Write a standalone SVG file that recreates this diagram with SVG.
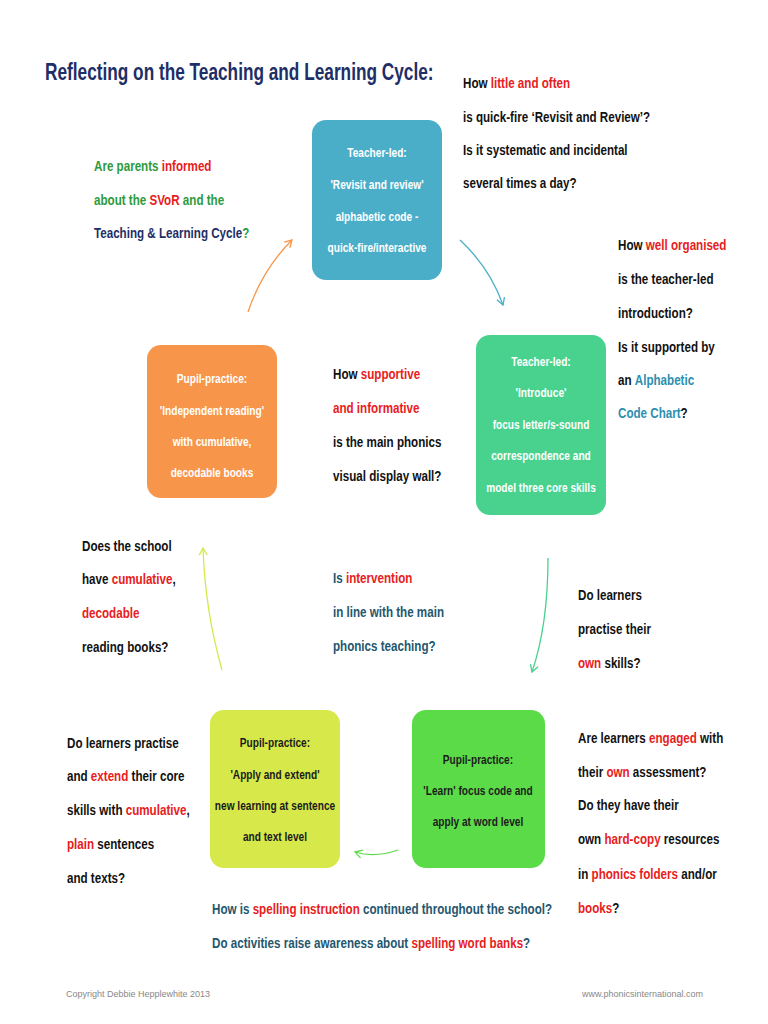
<svg xmlns="http://www.w3.org/2000/svg" width="768" height="1024" viewBox="0 0 768 1024">
<style>
text{font-family:"Liberation Sans",Arial,sans-serif;font-size:15.5px;font-weight:bold}
.t{fill:#111}
.r{fill:#e8201c}
.g{fill:#2e9a3c}
.n{fill:#1e2e66}
.b{fill:#2d8fb0}
.s{fill:#24566e}
.w{fill:#fff;font-size:13.5px;text-anchor:middle}
.d{fill:#1b1b1b;font-size:13.5px;text-anchor:middle}
.c{font-size:9px;font-weight:normal;fill:#888}
.a{fill:none;stroke-width:1.3}
</style>
<defs>
<marker id="m" markerWidth="10" markerHeight="10" refX="8" refY="5" orient="auto" markerUnits="userSpaceOnUse"><path d="M1,1 L8,5 L1,9" fill="none" stroke="context-stroke" stroke-width="1.3"/></marker>
</defs>
<rect width="768" height="1024" fill="#fff"/>
<text x="60" y="80" class="n" style="font-size:23px" transform="scale(0.75,1)">Reflecting on the Teaching and Learning Cycle:</text>

<g id="n1"><rect x="312" y="120" width="130" height="160" rx="14" fill="#4baec9"/>
<g transform="scale(0.75,1)"><text class="w" x="502.67" y="157">Teacher-led:</text><text class="w" x="502.67" y="189">'Revisit and review'</text><text class="w" x="502.67" y="221">alphabetic code -</text><text class="w" x="502.67" y="252">quick-fire/interactive</text></g></g>
<g id="n2"><rect x="476" y="335" width="130" height="180" rx="14" fill="#48d28e"/>
<g transform="scale(0.75,1)"><text class="w" x="721.33" y="366">Teacher-led:</text><text class="w" x="721.33" y="397">'Introduce'</text><text class="w" x="721.33" y="429">focus letter/s-sound</text><text class="w" x="721.33" y="460">correspondence and</text><text class="w" x="721.33" y="492">model three core skills</text></g></g>
<g id="n3"><rect x="147" y="345" width="130" height="153" rx="14" fill="#f7964a"/>
<g transform="scale(0.75,1)"><text class="w" x="282.67" y="383">Pupil-practice:</text><text class="w" x="282.67" y="415">'Independent reading'</text><text class="w" x="282.67" y="446">with cumulative,</text><text class="w" x="282.67" y="477">decodable books</text></g></g>
<g id="n4"><rect x="412" y="710" width="133" height="158" rx="14" fill="#5cdb48"/>
<g transform="scale(0.75,1)"><text class="d" x="637.33" y="764">Pupil-practice:</text><text class="d" x="637.33" y="795">'Learn' focus code and</text><text class="d" x="637.33" y="826">apply at word level</text></g></g>
<g id="n5"><rect x="210" y="710" width="130" height="158" rx="14" fill="#d6e84a"/>
<g transform="scale(0.75,1)"><text class="d" x="366.67" y="747">Pupil-practice:</text><text class="d" x="366.67" y="779">'Apply and extend'</text><text class="d" x="366.67" y="810">new learning at sentence</text><text class="d" x="366.67" y="841">and text level</text></g></g>

<g id="connectors">
<path class="a" stroke="#f7964a" d="M248,312 Q262,270 292,240" marker-end="url(#m)"/>
<path class="a" stroke="#4baec9" d="M460,240 Q490,268 503,305" marker-end="url(#m)"/>
<path class="a" stroke="#48d28e" d="M548,558 Q548,625 532,672" marker-end="url(#m)"/>
<path class="a" stroke="#5cdb48" d="M398,850 Q375,858 355,852" marker-end="url(#m)"/>
<path class="a" stroke="#d6e84a" d="M222,670 Q205,610 203,548" marker-end="url(#m)"/>
</g>

<g id="texts" transform="scale(0.75,1)">
<text x="617.33" y="88"><tspan class="t">How </tspan><tspan class="r">little and often</tspan></text>
<text x="617.33" y="122" class="t">is quick-fire ‘Revisit and Review’?</text>
<text x="617.33" y="155" class="t">Is it systematic and incidental</text>
<text x="617.33" y="188" class="t">several times a day?</text>

<text x="125.33" y="171"><tspan class="g">Are parents </tspan><tspan class="r">informed</tspan></text>
<text x="125.33" y="205"><tspan class="g">about the </tspan><tspan class="r">SVoR</tspan><tspan class="g"> and the</tspan></text>
<text x="125.33" y="238"><tspan class="n">Teaching &amp; Learning Cycle</tspan><tspan class="g">?</tspan></text>

<text x="824" y="250"><tspan class="t">How </tspan><tspan class="r">well organised</tspan></text>
<text x="824" y="284" class="t">is the teacher-led</text>
<text x="824" y="318" class="t">introduction?</text>
<text x="824" y="352" class="t">Is it supported by</text>
<text x="824" y="385"><tspan class="t">an </tspan><tspan class="b">Alphabetic</tspan></text>
<text x="824" y="418"><tspan class="b">Code Chart</tspan><tspan class="t">?</tspan></text>

<text x="444" y="379"><tspan class="t">How </tspan><tspan class="r">supportive</tspan></text>
<text x="444" y="413" class="r">and informative</text>
<text x="444" y="447" class="t">is the main phonics</text>
<text x="444" y="481" class="t">visual display wall?</text>

<text x="109.33" y="551" class="t">Does the school</text>
<text x="109.33" y="584"><tspan class="t">have </tspan><tspan class="r">cumulative</tspan><tspan class="t">,</tspan></text>
<text x="109.33" y="618" class="r">decodable</text>
<text x="109.33" y="652" class="t">reading books?</text>

<text x="444" y="583"><tspan class="s">Is </tspan><tspan class="r">intervention</tspan></text>
<text x="444" y="617" class="s">in line with the main</text>
<text x="444" y="651" class="s">phonics teaching?</text>

<text x="770.67" y="600" class="t">Do learners</text>
<text x="770.67" y="634" class="t">practise their</text>
<text x="770.67" y="668"><tspan class="r">own</tspan><tspan class="t"> skills?</tspan></text>

<text x="89.33" y="748" class="t">Do learners practise</text>
<text x="89.33" y="781"><tspan class="t">and </tspan><tspan class="r">extend</tspan><tspan class="t"> their core</tspan></text>
<text x="89.33" y="815"><tspan class="t">skills with </tspan><tspan class="r">cumulative</tspan><tspan class="t">,</tspan></text>
<text x="89.33" y="849"><tspan class="r">plain</tspan><tspan class="t"> sentences</tspan></text>
<text x="89.33" y="883" class="t">and texts?</text>

<text x="770.67" y="743"><tspan class="t">Are learners </tspan><tspan class="r">engaged</tspan><tspan class="t"> with</tspan></text>
<text x="770.67" y="777"><tspan class="t">their </tspan><tspan class="r">own</tspan><tspan class="t"> assessment?</tspan></text>
<text x="770.67" y="810" class="t">Do they have their</text>
<text x="770.67" y="844"><tspan class="t">own </tspan><tspan class="r">hard-copy</tspan><tspan class="t"> resources</tspan></text>
<text x="770.67" y="879"><tspan class="t">in </tspan><tspan class="r">phonics folders</tspan><tspan class="t"> and/or</tspan></text>
<text x="770.67" y="913"><tspan class="r">books</tspan><tspan class="t">?</tspan></text>

<text x="282.67" y="914"><tspan class="s">How is </tspan><tspan class="r">spelling instruction</tspan><tspan class="s"> continued throughout the school?</tspan></text>
<text x="282.67" y="948"><tspan class="s">Do activities raise awareness about </tspan><tspan class="r">spelling word banks</tspan><tspan class="s">?</tspan></text>
</g>
<text x="66" y="997" class="c">Copyright Debbie Hepplewhite 2013</text>
<text x="703" y="997" class="c" text-anchor="end">www.phonicsinternational.com</text>
</svg>
